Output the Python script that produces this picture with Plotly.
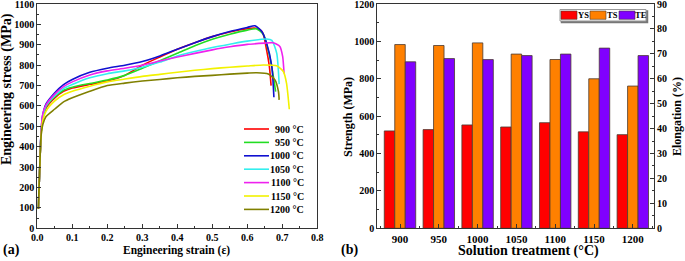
import plotly.graph_objects as go

W, H = 685, 261
FONT = "Liberation Serif, Times New Roman, serif"

# ---------------- (a) stress-strain data ----------------
series_names = ["900 °C", "950 °C", "1000 °C", "1050 °C", "1100 °C", "1150 °C", "1200 °C"]
series_colors = ["#FF0000", "#22DD22", "#1010D0", "#33EEEE", "#EE22EE", "#F2F200", "#808000"]

strain_900 = [0.003, 0.007, 0.011, 0.016, 0.025, 0.05, 0.075, 0.1, 0.15, 0.2, 0.25, 0.3, 0.35, 0.4, 0.45, 0.5, 0.55, 0.6, 0.62, 0.635, 0.645, 0.655, 0.663, 0.668]
stress_900 = [95, 300, 470, 540, 590, 640, 672, 688, 706, 722, 750, 800, 840, 878, 910, 940, 963, 979, 982, 975, 955, 876, 794, 700]

strain_950 = [0.003, 0.007, 0.011, 0.016, 0.025, 0.05, 0.075, 0.1, 0.15, 0.2, 0.25, 0.3, 0.35, 0.4, 0.45, 0.5, 0.55, 0.6, 0.627, 0.646, 0.665, 0.676, 0.681]
stress_950 = [95, 300, 470, 545, 595, 645, 677, 692, 710, 727, 750, 785, 822, 858, 895, 927, 952, 972, 978, 950, 835, 728, 670]

strain_1000 = [0.003, 0.007, 0.011, 0.015, 0.025, 0.05, 0.075, 0.1, 0.15, 0.2, 0.25, 0.3, 0.35, 0.4, 0.45, 0.5, 0.55, 0.6, 0.622, 0.641, 0.655, 0.67, 0.676]
stress_1000 = [95, 300, 480, 550, 610, 665, 705, 730, 765, 785, 800, 818, 845, 878, 910, 940, 965, 985, 993, 966, 909, 794, 643]

strain_1050 = [0.003, 0.007, 0.011, 0.016, 0.025, 0.05, 0.075, 0.1, 0.15, 0.2, 0.25, 0.3, 0.35, 0.4, 0.45, 0.5, 0.55, 0.6, 0.655, 0.67, 0.684, 0.691]
stress_1050 = [95, 300, 475, 548, 600, 650, 685, 705, 738, 758, 772, 790, 815, 845, 867, 887, 903, 918, 928, 922, 859, 707]

strain_1100 = [0.003, 0.007, 0.011, 0.015, 0.025, 0.05, 0.075, 0.1, 0.15, 0.2, 0.25, 0.3, 0.35, 0.4, 0.45, 0.5, 0.55, 0.6, 0.65, 0.674, 0.693, 0.701, 0.705]
stress_1100 = [95, 300, 480, 555, 605, 658, 695, 718, 752, 772, 785, 800, 820, 840, 858, 875, 890, 902, 908, 910, 892, 843, 760]

strain_1150 = [0.003, 0.007, 0.011, 0.016, 0.025, 0.05, 0.075, 0.1, 0.15, 0.2, 0.25, 0.3, 0.35, 0.4, 0.45, 0.5, 0.55, 0.6, 0.646, 0.684, 0.703, 0.712, 0.72]
stress_1150 = [95, 300, 460, 530, 575, 625, 655, 672, 697, 718, 732, 745, 755, 765, 775, 783, 790, 796, 801, 797, 769, 712, 584]

strain_1200 = [0.003, 0.007, 0.011, 0.016, 0.025, 0.05, 0.075, 0.1, 0.15, 0.2, 0.25, 0.3, 0.35, 0.4, 0.45, 0.5, 0.55, 0.6, 0.627, 0.66, 0.679, 0.689, 0.691]
stress_1200 = [95, 300, 455, 510, 548, 585, 620, 640, 672, 700, 712, 722, 730, 738, 745, 750, 756, 761, 763, 757, 728, 671, 630]

strains = [strain_900, strain_950, strain_1000, strain_1050, strain_1100, strain_1150, strain_1200]
stresses = [stress_900, stress_950, stress_1000, stress_1050, stress_1100, stress_1150, stress_1200]

# ---------------- (b) bar data ----------------
categories = ["900", "950", "1000", "1050", "1100", "1150", "1200"]
YS = [521, 528, 553, 542, 565, 516, 501]
TS = [983, 978, 992, 932, 903, 800, 761]
TE = [66.8, 68.1, 67.7, 69.3, 69.9, 72.3, 69.3]
bar_names = ["YS", "TS", "TE"]
bar_colors = ["#FF0000", "#FF8000", "#8000FF"]


def px(x):
    return x / W


def py(y):
    return 1 - y / H


fig = go.Figure()

for s, t, c in zip(strains, stresses, series_colors):
    fig.add_trace(go.Scatter(x=s, y=t, mode="lines", xaxis="x", yaxis="y",
                             line=dict(color=c, width=1.6, shape="spline", smoothing=0.6),
                             showlegend=False, hoverinfo="skip"))

idx = list(range(len(categories)))
bar_sets = [(YS, "y2", -0.405), (TS, "y2", -0.135), (TE, "y3", 0.135)]
for (vals, ax, off), name, col in zip(bar_sets, bar_names, bar_colors):
    fig.add_trace(go.Bar(x=idx, y=vals, name=name, xaxis="x2", yaxis=ax,
                         width=0.27, offset=off,
                         marker=dict(color=col, line=dict(color="#4a3a30", width=0.8)),
                         showlegend=False))

AXC = "#333333"
tf10 = dict(family=FONT, size=10, color="black", weight="bold")
tf11 = dict(family=FONT, size=11, color="black", weight="bold")

common = dict(showline=True, linecolor=AXC, linewidth=1, mirror=True, showgrid=False,
              zeroline=False, ticks="inside", tickcolor=AXC, tickwidth=1, ticklen=4,
              automargin=False, ticklabeloverflow="allow")

y_dom = [py(228.3), py(4)]

fig.update_layout(
    width=W, height=H, margin=dict(l=0, r=0, t=0, b=0),
    paper_bgcolor="white", plot_bgcolor="white", barmode="overlay",
    xaxis=dict(domain=[px(37.3), px(317.3)], range=[0, 0.8], anchor="y", tick0=0, dtick=0.1,
               tickformat=".1f", tickfont=tf10,
               minor=dict(ticks="inside", ticklen=2, dtick=0.05, tickcolor=AXC, showgrid=False),
               **common),
    yaxis=dict(domain=y_dom, range=[0, 1100], anchor="x", tick0=0, dtick=100, tickfont=tf10,
               minor=dict(ticks="inside", ticklen=2, dtick=50, tickcolor=AXC, showgrid=False),
               **common),
    xaxis2=dict(domain=[px(377.3), px(654)], range=[-0.585, 6.546], anchor="y2",
                tickmode="array", tickvals=idx, ticktext=categories, tickfont=tf11,
                minor=dict(ticks="inside", ticklen=2, tickmode="array",
                           tickvals=[i - 0.5 for i in idx] + [idx[-1] + 0.5], tickcolor=AXC, showgrid=False),
                **common),
    yaxis2=dict(domain=y_dom, range=[0, 1200], anchor="x2", tick0=0, dtick=200, tickfont=tf10,
                minor=dict(ticks="inside", ticklen=2, dtick=100, tickcolor=AXC, showgrid=False),
                **common),
    yaxis3=dict(domain=y_dom, range=[0, 90], anchor="x2", overlaying="y2", side="right",
                tick0=0, dtick=10, tickfont=tf10,
                minor=dict(ticks="inside", ticklen=2, dtick=5, tickcolor=AXC, showgrid=False),
                **common),
)

ann = []
shapes = []


def text(x, y, s, size, angle=0, xanchor="center"):
    ann.append(dict(x=px(x), y=py(y), xref="paper", yref="paper", text=s, showarrow=False,
                    textangle=angle, xanchor=xanchor, yanchor="middle",
                    font=dict(family=FONT, size=size, color="black", weight="bold")))


# axis titles and panel labels
text(176.5, 250.7, "Engineering strain (ε)", 11.5)
text(7, 89, "Engineering stress (MPa)", 14, angle=-90)
text(11, 250, "(a)", 14)
text(528.5, 251, "Solution treatment (°C)", 14)
text(348, 117, "Strength (MPa)", 12, angle=-90)
text(677, 117, "Elongation (%)", 12, angle=-90)
text(349, 250, "(b)", 14)

# legend (a)
for i, (nm, col) in enumerate(zip(series_names, series_colors)):
    yy = 129 + i * 13.4
    shapes.append(dict(type="line", xref="paper", yref="paper", x0=px(244), x1=px(269),
                       y0=py(yy), y1=py(yy), line=dict(color=col, width=1.6)))
    text(306, yy, nm, 10, xanchor="right")

# legend (b)
shapes.append(dict(type="rect", xref="paper", yref="paper", x0=px(561.5), x1=px(647.5),
                   y0=py(22.5), y1=py(11), line=dict(color="#777777", width=1.5), fillcolor="#777777"))
shapes.append(dict(type="rect", xref="paper", yref="paper", x0=px(560), x1=px(646),
                   y0=py(21), y1=py(9.5), line=dict(color="#999999", width=1), fillcolor="white"))
for i, (nm, col) in enumerate(zip(bar_names, bar_colors)):
    x0 = 561 + i * 29
    shapes.append(dict(type="rect", xref="paper", yref="paper", x0=px(x0), x1=px(x0 + 16),
                       y0=py(19.3), y1=py(11), line=dict(color="#4a3a30", width=0.6), fillcolor=col))
    text(x0 + 22, 15.3, nm, 8.5)

fig.update_layout(annotations=ann, shapes=shapes)
fig.write_html("out.html", config={"displayModeBar": False, "staticPlot": True},
               post_script="document.body.style.margin='0';document.body.style.padding='0';"
                           "document.body.style.overflow='hidden';")
